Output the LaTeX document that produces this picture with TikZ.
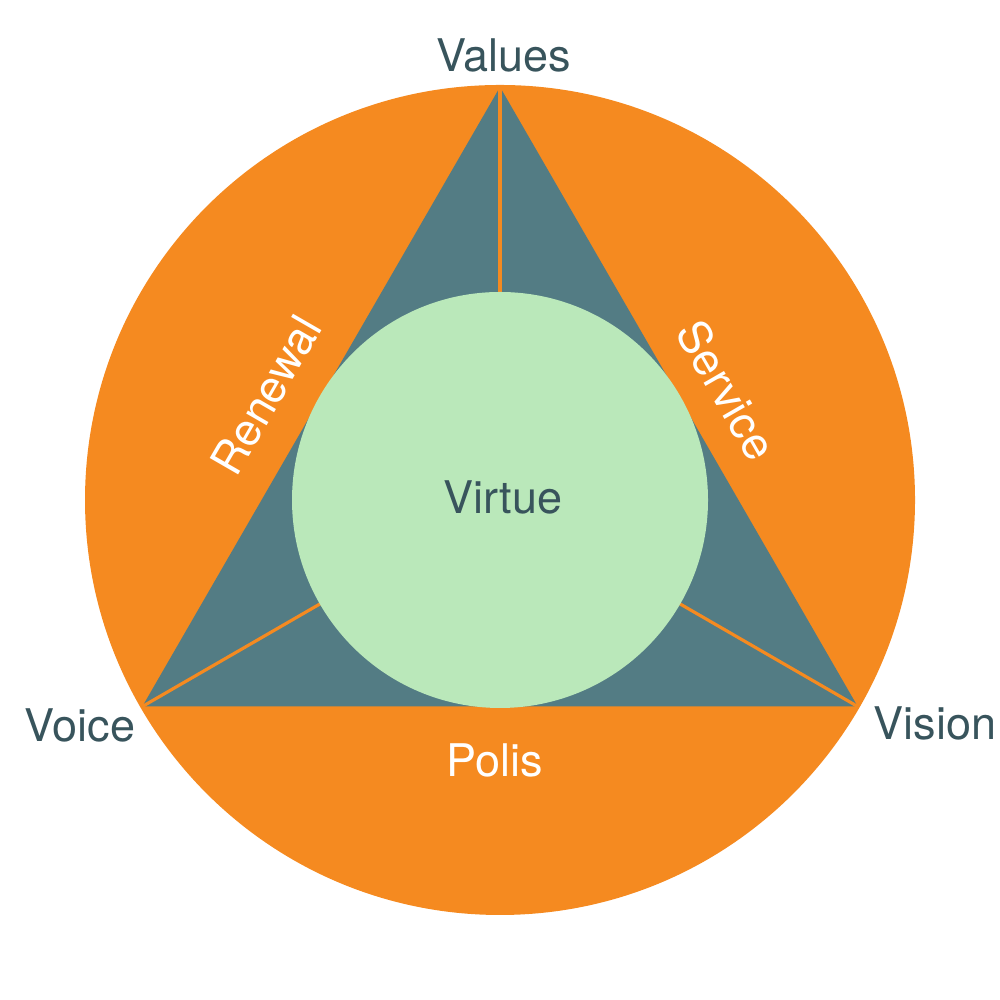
\documentclass[tikz,border=0pt]{standalone}
\usepackage{fontspec}
\setmainfont{TeX Gyre Heros}
\usetikzlibrary{positioning,calc}
\definecolor{ringorange}{RGB}{245,138,32}
\definecolor{slateteal}{RGB}{83,124,132}
\definecolor{virtuegreen}{RGB}{186,232,186}
\definecolor{labelslate}{RGB}{56,84,92}

\begin{document}
\begin{tikzpicture}[
      font=\fontsize{12.8}{14}\selectfont,
      outer/.style={text=labelslate, inner sep=1pt},
      edge/.style={text=white, inner sep=1pt},
      spoke/.style={draw=ringorange, line width=0.9pt}
    ]
    \useasboundingbox (0,0) rectangle (10,10);
    % --- outer ring ---------------------------------------------------------
    \coordinate (ctr) at (5,5);
    \fill[ringorange] (ctr) circle[radius=4.15];

    % --- triangle corners ---------------------------------------------------
    \coordinate (cval) at ($(ctr)+(90:4.13)$);
    \coordinate (cvoi) at ($(ctr)+(210:4.13)$);
    \coordinate (cvis) at ($(ctr)+(330:4.13)$);
    \fill[slateteal] (cval) -- (cvoi) -- (cvis) -- cycle;

    % --- spokes into the centre -------------------------------------------
    \draw[spoke] (cval) -- (ctr);
    \draw[spoke] (cvoi) -- (ctr);
    \draw[spoke] (cvis) -- (ctr);

    % --- inner circle ---------------------------------------------------------
    \fill[virtuegreen] (ctr) circle[radius=2.08];
    \node[outer] (virtue) at (5.03,5.03) {Virtue};

    % --- corner labels --------------------------------------------------------
    \node[outer] (values) at (5.04,9.45) {Values};
    \node[outer] (voice)  at (0.80,2.75) {Voice};
    \node[outer] (vision) at (9.35,2.77) {Vision};

    % --- side labels ----------------------------------------------------------
    \node[edge] (polis)   at (4.95,2.40) {Polis};
    \node[edge, rotate=60]  (renewal) at (2.66,6.05) {Renewal};
    \node[edge, rotate=-60] (service) at (7.27,6.10) {Service};
  \end{tikzpicture}
\end{document}
